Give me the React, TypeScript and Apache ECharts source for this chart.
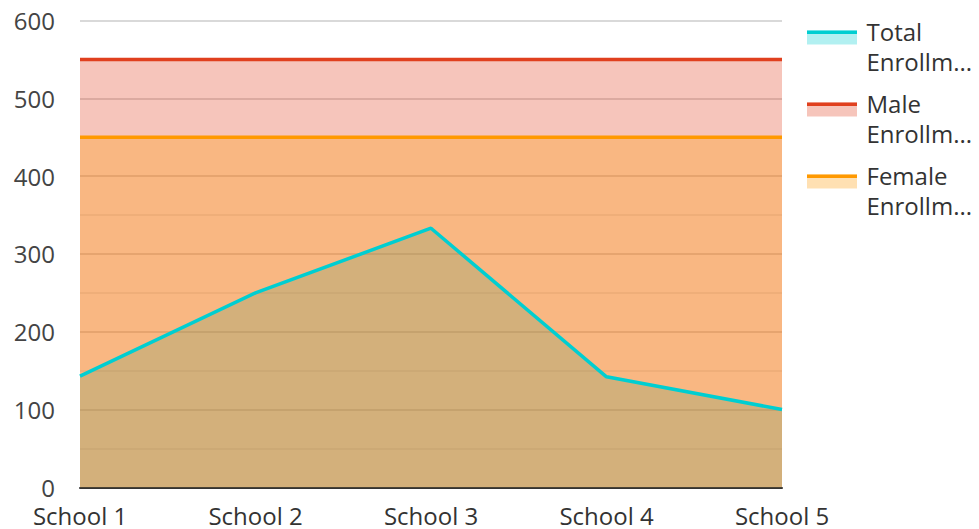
import React, { useEffect, useRef } from "react";
import * as echarts from "echarts";

const categories = ["School 1", "School 2", "School 3", "School 4", "School 5"];
const seriesNames = ["Total Enrollment", "Male Enrollment", "Female Enrollment"];
const totalValues = [143, 250, 333, 142, 100];
const maleValues = [550, 550, 550, 550, 550];
const femaleValues = [450, 450, 450, 450, 450];
const lineColors = ["#00CED1", "#E0401E", "#FF9900"];
const fillColors = ["rgba(0,206,209,0.3)", "rgba(224,64,30,0.3)", "rgba(255,153,0,0.3)"];

const FONT = "'Open Sans', 'Noto Sans', sans-serif";
const FS = 24;

function legendLabel(name: string): string {
  const parts = name.split(" ");
  const second = parts.slice(1).join(" ");
  return parts[0] + "\n" + (second.length > 7 ? second.slice(0, 7) + "..." : second);
}

export default function App() {
  const ref = useRef<HTMLDivElement>(null);
  useEffect(() => {
    if (!ref.current) return;
    const chart = echarts.init(ref.current, undefined, { renderer: "svg" });
    const values = [totalValues, maleValues, femaleValues];
    const legendX = 807;
    const legendY = 30.5;
    const legendStep = 72;
    const graphic: any[] = [];
    seriesNames.forEach((n, i) => {
      const y = legendY + i * legendStep;
      graphic.push({ type: "rect", left: legendX, top: y, shape: { width: 50, height: 14 }, style: { fill: fillColors[i] }, silent: true });
      graphic.push({ type: "rect", left: legendX, top: y, shape: { width: 50, height: 3.5 }, style: { fill: lineColors[i] }, silent: true });
      graphic.push({
        type: "text",
        left: 866.5,
        top: y - 14.5,
        style: { text: legendLabel(n), font: `${FS}px ${FONT}`, fill: "#333", lineHeight: 30 },
        silent: true,
      });
    });
    chart.setOption({
      animation: false,
      grid: { left: 80, right: 197, top: 20.5, bottom: 41.7, containLabel: false },
      xAxis: {
        type: "category",
        data: categories,
        boundaryGap: false,
        axisLine: { show: true, lineStyle: { color: "#333", width: 2 } },
        axisTick: { show: false },
        axisLabel: { color: "#333", fontSize: FS, fontFamily: FONT, margin: 17, lineHeight: 22 },
        splitLine: { show: false },
      },
      yAxis: {
        type: "value",
        min: 0,
        max: 600,
        interval: 100,
        axisLine: { show: false },
        axisTick: { show: false },
        axisLabel: { color: "#444", fontSize: FS, fontFamily: FONT, margin: 25, lineHeight: 22 },
        splitLine: { show: true, lineStyle: { color: "#cccccc", width: 1.5 } },
        minorTick: { show: false, splitNumber: 2 },
        minorSplitLine: { show: true, lineStyle: { color: "#e6e6e6", width: 1.5 } },
      },
      series: seriesNames.map((n, i) => ({
        name: n,
        type: "line",
        data: values[i],
        symbol: "none",
        lineStyle: { color: lineColors[i], width: 3.5 },
        itemStyle: { color: lineColors[i] },
        areaStyle: { color: fillColors[i], opacity: 1 },
      })),
      graphic,
    });
    return () => chart.dispose();
  }, []);
  return <div ref={ref} style={{ width: 979, height: 529, position: "absolute", left: 0, top: 0 }} />;
}
